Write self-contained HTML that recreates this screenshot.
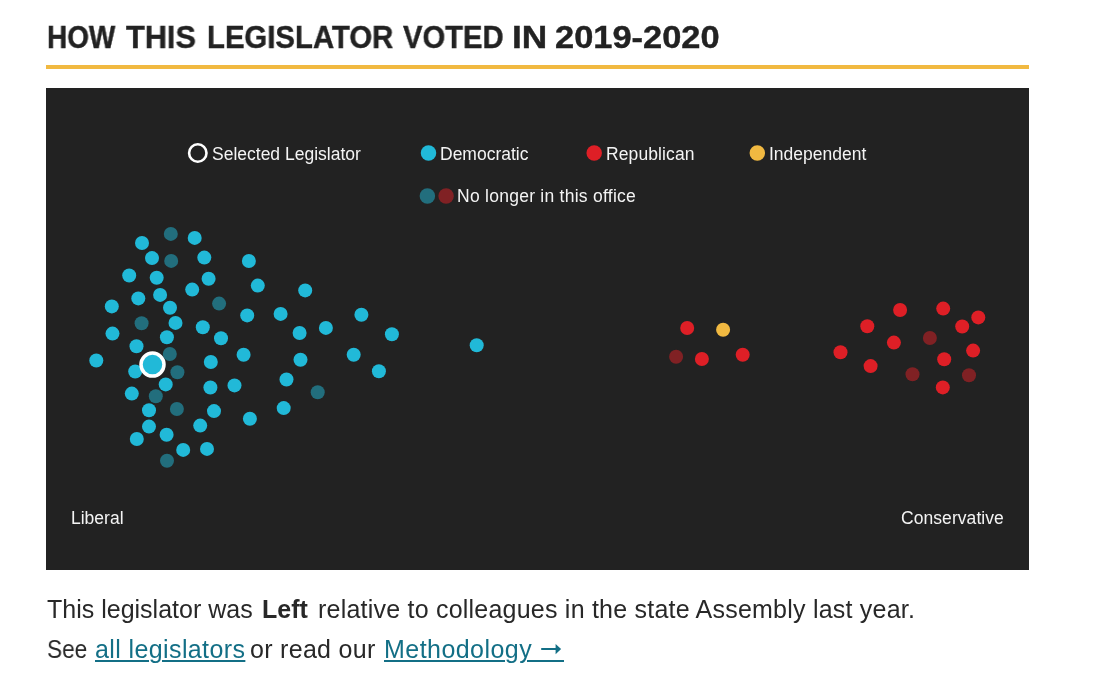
<!DOCTYPE html>
<html><head><meta charset="utf-8"><style>
html,body{margin:0;padding:0;background:#fff;}
body{width:1100px;height:698px;position:relative;overflow:hidden;font-family:"Liberation Sans",sans-serif;}
.t{position:absolute;white-space:nowrap;will-change:transform;}
.tt{top:18px;font-size:31px;line-height:40px;font-weight:bold;color:#222;transform-origin:0 0;-webkit-text-stroke:0.4px #222;}
#rule{position:absolute;left:46px;top:65px;width:983px;height:4px;background:#f1b941;}
#box{position:absolute;left:46px;top:88px;width:983px;height:482px;background:#222;}
svg{position:absolute;left:0;top:0;}
.lg{font-size:17.5px;line-height:20px;color:#f4f4f4;}
.bd{font-size:25px;line-height:30px;color:#282828;}
.ln{color:#136f86;text-decoration:underline;text-decoration-thickness:2px;text-underline-offset:2px;}
.ul{position:absolute;height:2px;background:#136f86;}
</style></head><body>
<div class="t tt" style="left:46.7px;transform:scaleX(0.901)">HOW</div>
<div class="t tt" style="left:126.3px;transform:scaleX(0.990)">THIS</div>
<div class="t tt" style="left:207.1px;transform:scaleX(0.946)">LEGISLATOR</div>
<div class="t tt" style="left:403.4px;transform:scaleX(0.941)">VOTED</div>
<div class="t tt" style="left:512.3px;transform:scaleX(1.137)">IN</div>
<div class="t tt" style="left:555.2px;transform:scaleX(1.110)">2019-2020</div>
<div id="rule"></div>
<div id="box"></div>
<svg width="1100" height="698" viewBox="0 0 1100 698">
<circle cx="197.8" cy="153" r="8.7" fill="none" stroke="#fff" stroke-width="2.6"/>
<circle cx="428.5" cy="153" r="7.75" fill="#21b9d8"/>
<circle cx="594.2" cy="153" r="7.75" fill="#de1f26"/>
<circle cx="757.3" cy="153" r="7.75" fill="#f1b941"/>
<circle cx="427.4" cy="196" r="7.75" fill="#21b9d8" fill-opacity="0.5"/>
<circle cx="446.1" cy="196" r="7.75" fill="#de1f26" fill-opacity="0.5"/>
<circle cx="170.8" cy="233.9" r="7" fill="#21b9d8" fill-opacity="0.5"/>
<circle cx="171.2" cy="260.9" r="7" fill="#21b9d8" fill-opacity="0.5"/>
<circle cx="219.1" cy="303.6" r="7" fill="#21b9d8" fill-opacity="0.5"/>
<circle cx="141.6" cy="323.2" r="7" fill="#21b9d8" fill-opacity="0.5"/>
<circle cx="169.8" cy="354.0" r="7" fill="#21b9d8" fill-opacity="0.5"/>
<circle cx="177.4" cy="372.2" r="7" fill="#21b9d8" fill-opacity="0.5"/>
<circle cx="155.8" cy="396.2" r="7" fill="#21b9d8" fill-opacity="0.5"/>
<circle cx="176.9" cy="409.0" r="7" fill="#21b9d8" fill-opacity="0.5"/>
<circle cx="167.0" cy="460.8" r="7" fill="#21b9d8" fill-opacity="0.5"/>
<circle cx="317.7" cy="392.3" r="7" fill="#21b9d8" fill-opacity="0.5"/>
<circle cx="676.1" cy="356.8" r="7" fill="#de1f26" fill-opacity="0.5"/>
<circle cx="929.9" cy="338.0" r="7" fill="#de1f26" fill-opacity="0.5"/>
<circle cx="912.5" cy="374.3" r="7" fill="#de1f26" fill-opacity="0.5"/>
<circle cx="969.0" cy="375.2" r="7" fill="#de1f26" fill-opacity="0.5"/>
<circle cx="142.0" cy="243.0" r="7" fill="#21b9d8"/>
<circle cx="194.7" cy="237.9" r="7" fill="#21b9d8"/>
<circle cx="152.0" cy="258.1" r="7" fill="#21b9d8"/>
<circle cx="129.2" cy="275.5" r="7" fill="#21b9d8"/>
<circle cx="156.7" cy="277.8" r="7" fill="#21b9d8"/>
<circle cx="192.2" cy="289.6" r="7" fill="#21b9d8"/>
<circle cx="160.1" cy="294.9" r="7" fill="#21b9d8"/>
<circle cx="138.3" cy="298.4" r="7" fill="#21b9d8"/>
<circle cx="204.3" cy="257.6" r="7" fill="#21b9d8"/>
<circle cx="248.9" cy="261.0" r="7" fill="#21b9d8"/>
<circle cx="208.6" cy="278.7" r="7" fill="#21b9d8"/>
<circle cx="257.8" cy="285.6" r="7" fill="#21b9d8"/>
<circle cx="305.2" cy="290.4" r="7" fill="#21b9d8"/>
<circle cx="170.0" cy="307.8" r="7" fill="#21b9d8"/>
<circle cx="247.2" cy="315.4" r="7" fill="#21b9d8"/>
<circle cx="280.6" cy="313.9" r="7" fill="#21b9d8"/>
<circle cx="111.8" cy="306.4" r="7" fill="#21b9d8"/>
<circle cx="175.5" cy="322.9" r="7" fill="#21b9d8"/>
<circle cx="202.8" cy="327.2" r="7" fill="#21b9d8"/>
<circle cx="112.5" cy="333.6" r="7" fill="#21b9d8"/>
<circle cx="166.9" cy="337.3" r="7" fill="#21b9d8"/>
<circle cx="221.0" cy="338.3" r="7" fill="#21b9d8"/>
<circle cx="136.5" cy="346.3" r="7" fill="#21b9d8"/>
<circle cx="96.3" cy="360.5" r="7" fill="#21b9d8"/>
<circle cx="135.2" cy="371.5" r="7" fill="#21b9d8"/>
<circle cx="210.8" cy="362.0" r="7" fill="#21b9d8"/>
<circle cx="243.6" cy="354.7" r="7" fill="#21b9d8"/>
<circle cx="165.7" cy="384.4" r="7" fill="#21b9d8"/>
<circle cx="210.4" cy="387.5" r="7" fill="#21b9d8"/>
<circle cx="234.5" cy="385.4" r="7" fill="#21b9d8"/>
<circle cx="131.8" cy="393.6" r="7" fill="#21b9d8"/>
<circle cx="149.0" cy="410.3" r="7" fill="#21b9d8"/>
<circle cx="214.0" cy="411.1" r="7" fill="#21b9d8"/>
<circle cx="249.9" cy="418.8" r="7" fill="#21b9d8"/>
<circle cx="149.0" cy="426.6" r="7" fill="#21b9d8"/>
<circle cx="200.2" cy="425.6" r="7" fill="#21b9d8"/>
<circle cx="136.8" cy="439.0" r="7" fill="#21b9d8"/>
<circle cx="166.6" cy="434.8" r="7" fill="#21b9d8"/>
<circle cx="183.2" cy="449.9" r="7" fill="#21b9d8"/>
<circle cx="207.0" cy="448.9" r="7" fill="#21b9d8"/>
<circle cx="361.4" cy="314.8" r="7" fill="#21b9d8"/>
<circle cx="299.6" cy="333.0" r="7" fill="#21b9d8"/>
<circle cx="325.9" cy="327.9" r="7" fill="#21b9d8"/>
<circle cx="391.9" cy="334.3" r="7" fill="#21b9d8"/>
<circle cx="300.5" cy="359.8" r="7" fill="#21b9d8"/>
<circle cx="353.7" cy="354.7" r="7" fill="#21b9d8"/>
<circle cx="378.9" cy="371.3" r="7" fill="#21b9d8"/>
<circle cx="286.5" cy="379.5" r="7" fill="#21b9d8"/>
<circle cx="283.7" cy="408.1" r="7" fill="#21b9d8"/>
<circle cx="476.7" cy="345.3" r="7" fill="#21b9d8"/>
<circle cx="687.2" cy="328.0" r="7" fill="#de1f26"/>
<circle cx="701.9" cy="359.0" r="7" fill="#de1f26"/>
<circle cx="742.7" cy="354.8" r="7" fill="#de1f26"/>
<circle cx="900.1" cy="310.0" r="7" fill="#de1f26"/>
<circle cx="943.2" cy="308.6" r="7" fill="#de1f26"/>
<circle cx="978.3" cy="317.4" r="7" fill="#de1f26"/>
<circle cx="867.3" cy="326.2" r="7" fill="#de1f26"/>
<circle cx="962.2" cy="326.5" r="7" fill="#de1f26"/>
<circle cx="893.9" cy="342.6" r="7" fill="#de1f26"/>
<circle cx="840.5" cy="352.2" r="7" fill="#de1f26"/>
<circle cx="973.1" cy="350.6" r="7" fill="#de1f26"/>
<circle cx="944.2" cy="359.3" r="7" fill="#de1f26"/>
<circle cx="870.6" cy="366.1" r="7" fill="#de1f26"/>
<circle cx="942.8" cy="387.4" r="7" fill="#de1f26"/>
<circle cx="723.1" cy="329.7" r="7" fill="#f1b941"/>
<circle cx="152.5" cy="364.6" r="11.5" fill="#21b9d8" stroke="#fff" stroke-width="3.5"/>
<path d="M541.2 648.1H556.5V650.1H541.2Z M555.6 643.9L561.1 649.1L555.6 654.3Z" fill="#136f86"/>
</svg>
<div class="t lg" style="left:211.8px;top:143.6px">Selected Legislator</div>
<div class="t lg" style="left:439.8px;top:143.6px">Democratic</div>
<div class="t lg" style="left:606px;top:143.6px;letter-spacing:0.1px">Republican</div>
<div class="t lg" style="left:768.7px;top:143.6px">Independent</div>
<div class="t lg" style="left:457.3px;top:186px;letter-spacing:0.26px">No longer in this office</div>
<div class="t lg" style="left:71.1px;top:507.8px">Liberal</div>
<div class="t lg" style="left:900.8px;top:507.8px;letter-spacing:0.06px">Conservative</div>
<div class="t bd" style="left:47.2px;top:594px">This legislator was</div>
<div class="t bd" style="left:262.2px;top:594px;font-weight:bold">Left</div>
<div class="t bd" style="left:318.1px;top:594px;letter-spacing:0.22px">relative to colleagues in the state Assembly last year.</div>
<div class="t bd" style="left:46.6px;top:634px;transform:scaleX(0.905);transform-origin:0 0">See</div>
<div class="t bd ln" style="left:94.6px;top:634px;letter-spacing:0.39px">all legislators</div>
<div class="t bd" style="left:250.4px;top:634px;letter-spacing:0.3px">or read our</div>
<div class="t bd ln" style="left:383.6px;top:634px;letter-spacing:0.45px">Methodology</div>
<div class="ul" style="left:528px;top:660px;width:35.5px"></div>
</body></html>
